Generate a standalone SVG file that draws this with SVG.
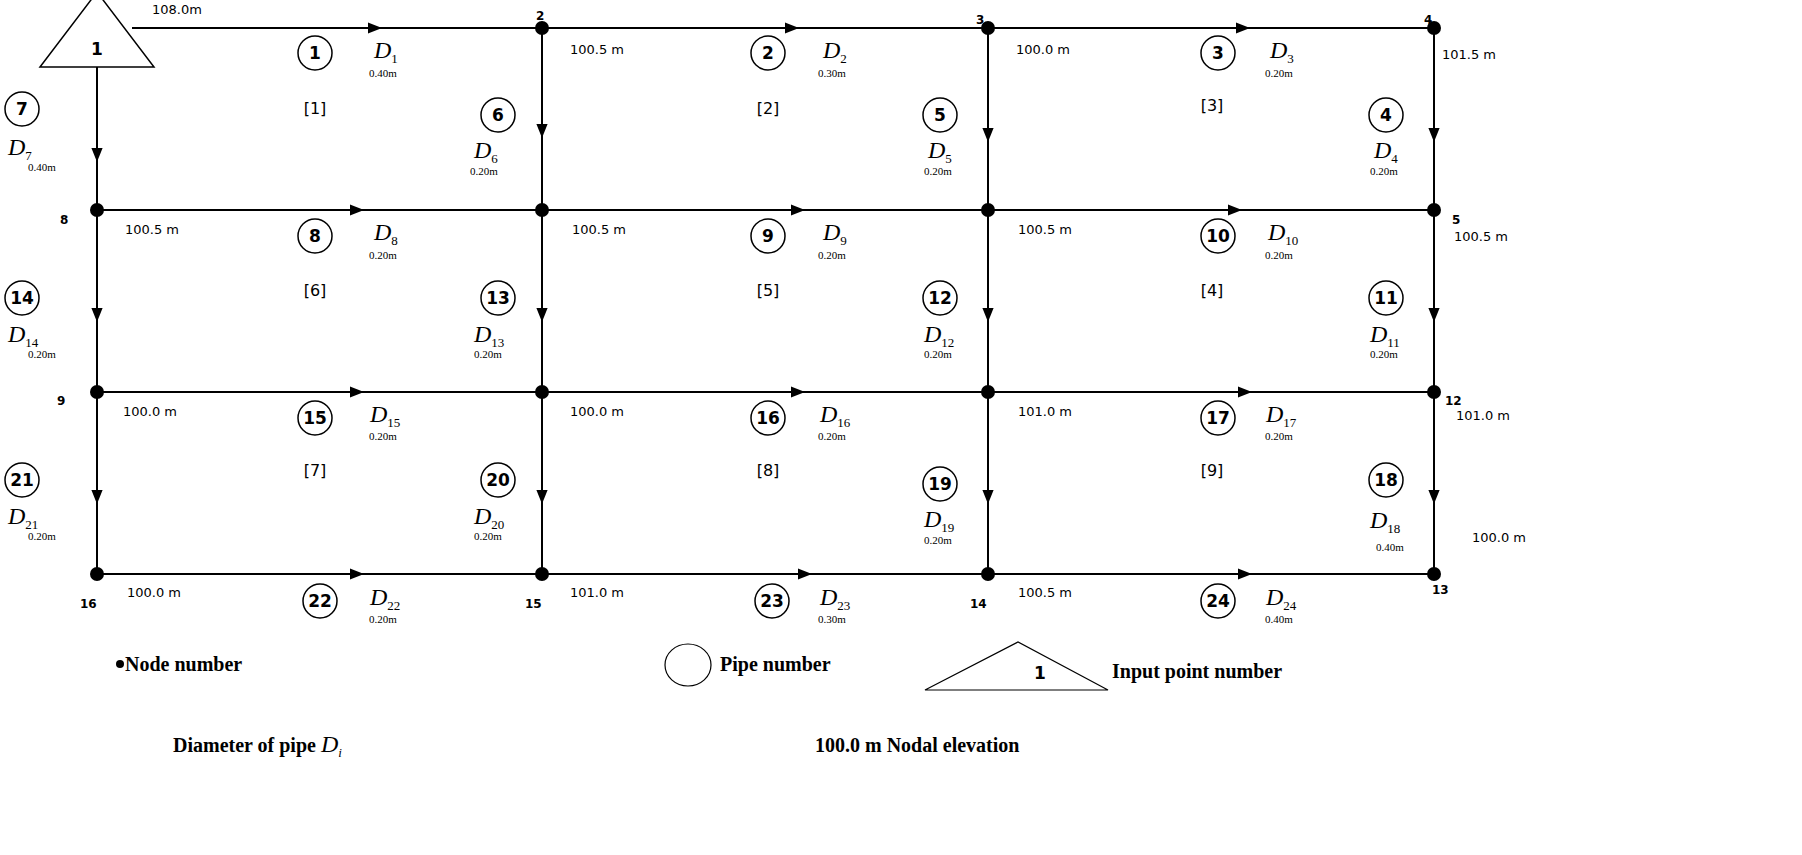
<svg xmlns="http://www.w3.org/2000/svg" width="1802" height="855" viewBox="0 0 1802 855">
<style>
.p{stroke:#000;stroke-width:2;fill:none}
.c{fill:#fff;stroke:#000;stroke-width:1.5}
.cn{font:bold 17px "DejaVu Sans",sans-serif;text-anchor:middle}
.e{font:13px "DejaVu Sans",sans-serif}
.n{font:bold 12px "DejaVu Sans",sans-serif}
.d{font:italic 24px "Liberation Serif",serif}
.ds{font:13px "Liberation Serif",serif}
.dm{font:11px "Liberation Serif",serif}
.l{font:16px "DejaVu Sans",sans-serif;text-anchor:middle}
.lg{font:bold 20px "Liberation Serif",serif}
.ar path{stroke:#000;stroke-width:2;marker-end:url(#b)}
</style>
<defs>
<marker id="b" viewBox="0 0 10 10" refX="10" refY="5" markerWidth="14" markerHeight="14" markerUnits="userSpaceOnUse" orient="auto"><path d="M0,1L10,5L0,9z"/></marker></defs>
<g id="connectors">
<path class="p" d="M132,28H1434M97,210H1434M97,392H1434M97,574H1434M97,67V574M542,28V574M988,28V574M1434,28V574"/>
<g class="ar">
<path d="M360,28H382"/><path d="M777,28H799"/><path d="M1228,28H1250"/>
<path d="M342,210H364"/><path d="M783,210H805"/><path d="M1220,210H1242"/>
<path d="M342,392H364"/><path d="M783,392H805"/><path d="M1230,392H1252"/>
<path d="M342,574H364"/><path d="M790,574H812"/><path d="M1230,574H1252"/>
<path d="M97,140V162"/><path d="M542,118V138"/><path d="M988,120V142"/><path d="M1434,120V142"/>
<path d="M97,300V322"/><path d="M542,300V322"/><path d="M988,300V322"/><path d="M1434,300V322"/>
<path d="M97,482V504"/><path d="M542,482V504"/><path d="M988,482V504"/><path d="M1434,482V504"/>
</g>
</g>
<g id="input1"><path d="M40,67L97,-8L154,67Z" fill="#fff" stroke="#000" stroke-width="1.5"/><text x="97" y="55" class="cn" font-size="20">1</text></g>
<g id="nodes" fill="#000">
<circle cx="542" cy="28" r="7"/><circle cx="988" cy="28" r="7"/><circle cx="1434" cy="28" r="7"/>
<circle cx="97" cy="210" r="7"/><circle cx="542" cy="210" r="7"/><circle cx="988" cy="210" r="7"/><circle cx="1434" cy="210" r="7"/>
<circle cx="97" cy="392" r="7"/><circle cx="542" cy="392" r="7"/><circle cx="988" cy="392" r="7"/><circle cx="1434" cy="392" r="7"/>
<circle cx="97" cy="574" r="7"/><circle cx="542" cy="574" r="7"/><circle cx="988" cy="574" r="7"/><circle cx="1434" cy="574" r="7"/>
</g>
<g id="nodelabels" class="n">
<text x="536" y="20">2</text><text x="976" y="24">3</text><text x="1424" y="24">4</text>
<text x="60" y="224">8</text><text x="1452" y="224">5</text>
<text x="57" y="405">9</text><text x="1445" y="405">12</text>
<text x="80" y="608">16</text><text x="525" y="608">15</text><text x="970" y="608">14</text><text x="1432" y="594">13</text>
</g>
<g id="elevations" class="e">
<text x="152" y="14">108.0m</text>
<text x="570" y="54">100.5 m</text><text x="1016" y="54">100.0 m</text><text x="1442" y="59">101.5 m</text>
<text x="125" y="234">100.5 m</text><text x="572" y="234">100.5 m</text><text x="1018" y="234">100.5 m</text><text x="1454" y="241">100.5 m</text>
<text x="123" y="416">100.0 m</text><text x="570" y="416">100.0 m</text><text x="1018" y="416">101.0 m</text><text x="1456" y="420">101.0 m</text>
<text x="127" y="597">100.0 m</text><text x="570" y="597">101.0 m</text><text x="1018" y="597">100.5 m</text><text x="1472" y="542">100.0 m</text>
</g>
<g id="pipes">
<g id="pipe1"><circle class="c" cx="315" cy="53" r="17"/><text class="cn" x="315" y="59">1</text><text class="d" x="374" y="58">D<tspan class="ds" dy="5">1</tspan></text><text class="dm" x="369" y="77">0.40m</text></g>
<g id="pipe2"><circle class="c" cx="768" cy="53" r="17"/><text class="cn" x="768" y="59">2</text><text class="d" x="823" y="58">D<tspan class="ds" dy="5">2</tspan></text><text class="dm" x="818" y="77">0.30m</text></g>
<g id="pipe3"><circle class="c" cx="1218" cy="53" r="17"/><text class="cn" x="1218" y="59">3</text><text class="d" x="1270" y="58">D<tspan class="ds" dy="5">3</tspan></text><text class="dm" x="1265" y="77">0.20m</text></g>
<g id="pipe7"><circle class="c" cx="22" cy="109" r="17"/><text class="cn" x="22" y="115">7</text><text class="d" x="8" y="155">D<tspan class="ds" dy="5">7</tspan></text><text class="dm" x="28" y="171">0.40m</text></g>
<g id="pipe6"><circle class="c" cx="498" cy="115" r="17"/><text class="cn" x="498" y="121">6</text><text class="d" x="474" y="158">D<tspan class="ds" dy="5">6</tspan></text><text class="dm" x="470" y="175">0.20m</text></g>
<g id="pipe5"><circle class="c" cx="940" cy="115" r="17"/><text class="cn" x="940" y="121">5</text><text class="d" x="928" y="158">D<tspan class="ds" dy="5">5</tspan></text><text class="dm" x="924" y="175">0.20m</text></g>
<g id="pipe4"><circle class="c" cx="1386" cy="115" r="17"/><text class="cn" x="1386" y="121">4</text><text class="d" x="1374" y="158">D<tspan class="ds" dy="5">4</tspan></text><text class="dm" x="1370" y="175">0.20m</text></g>
<g id="pipe8"><circle class="c" cx="315" cy="236" r="17"/><text class="cn" x="315" y="242">8</text><text class="d" x="374" y="240">D<tspan class="ds" dy="5">8</tspan></text><text class="dm" x="369" y="259">0.20m</text></g>
<g id="pipe9"><circle class="c" cx="768" cy="236" r="17"/><text class="cn" x="768" y="242">9</text><text class="d" x="823" y="240">D<tspan class="ds" dy="5">9</tspan></text><text class="dm" x="818" y="259">0.20m</text></g>
<g id="pipe10"><circle class="c" cx="1218" cy="236" r="17"/><text class="cn" x="1218" y="242">10</text><text class="d" x="1268" y="240">D<tspan class="ds" dy="5">10</tspan></text><text class="dm" x="1265" y="259">0.20m</text></g>
<g id="pipe14"><circle class="c" cx="22" cy="298" r="17"/><text class="cn" x="22" y="304">14</text><text class="d" x="8" y="342">D<tspan class="ds" dy="5">14</tspan></text><text class="dm" x="28" y="358">0.20m</text></g>
<g id="pipe13"><circle class="c" cx="498" cy="298" r="17"/><text class="cn" x="498" y="304">13</text><text class="d" x="474" y="342">D<tspan class="ds" dy="5">13</tspan></text><text class="dm" x="474" y="358">0.20m</text></g>
<g id="pipe12"><circle class="c" cx="940" cy="298" r="17"/><text class="cn" x="940" y="304">12</text><text class="d" x="924" y="342">D<tspan class="ds" dy="5">12</tspan></text><text class="dm" x="924" y="358">0.20m</text></g>
<g id="pipe11"><circle class="c" cx="1386" cy="298" r="17"/><text class="cn" x="1386" y="304">11</text><text class="d" x="1370" y="342">D<tspan class="ds" dy="5">11</tspan></text><text class="dm" x="1370" y="358">0.20m</text></g>
<g id="pipe15"><circle class="c" cx="315" cy="418" r="17"/><text class="cn" x="315" y="424">15</text><text class="d" x="370" y="422">D<tspan class="ds" dy="5">15</tspan></text><text class="dm" x="369" y="440">0.20m</text></g>
<g id="pipe16"><circle class="c" cx="768" cy="418" r="17"/><text class="cn" x="768" y="424">16</text><text class="d" x="820" y="422">D<tspan class="ds" dy="5">16</tspan></text><text class="dm" x="818" y="440">0.20m</text></g>
<g id="pipe17"><circle class="c" cx="1218" cy="418" r="17"/><text class="cn" x="1218" y="424">17</text><text class="d" x="1266" y="422">D<tspan class="ds" dy="5">17</tspan></text><text class="dm" x="1265" y="440">0.20m</text></g>
<g id="pipe21"><circle class="c" cx="22" cy="480" r="17"/><text class="cn" x="22" y="486">21</text><text class="d" x="8" y="524">D<tspan class="ds" dy="5">21</tspan></text><text class="dm" x="28" y="540">0.20m</text></g>
<g id="pipe20"><circle class="c" cx="498" cy="480" r="17"/><text class="cn" x="498" y="486">20</text><text class="d" x="474" y="524">D<tspan class="ds" dy="5">20</tspan></text><text class="dm" x="474" y="540">0.20m</text></g>
<g id="pipe19"><circle class="c" cx="940" cy="484" r="17"/><text class="cn" x="940" y="490">19</text><text class="d" x="924" y="527">D<tspan class="ds" dy="5">19</tspan></text><text class="dm" x="924" y="544">0.20m</text></g>
<g id="pipe18"><circle class="c" cx="1386" cy="480" r="17"/><text class="cn" x="1386" y="486">18</text><text class="d" x="1370" y="528">D<tspan class="ds" dy="5">18</tspan></text><text class="dm" x="1376" y="551">0.40m</text></g>
<g id="pipe22"><circle class="c" cx="320" cy="601" r="17"/><text class="cn" x="320" y="607">22</text><text class="d" x="370" y="605">D<tspan class="ds" dy="5">22</tspan></text><text class="dm" x="369" y="623">0.20m</text></g>
<g id="pipe23"><circle class="c" cx="772" cy="601" r="17"/><text class="cn" x="772" y="607">23</text><text class="d" x="820" y="605">D<tspan class="ds" dy="5">23</tspan></text><text class="dm" x="818" y="623">0.30m</text></g>
<g id="pipe24"><circle class="c" cx="1218" cy="601" r="17"/><text class="cn" x="1218" y="607">24</text><text class="d" x="1266" y="605">D<tspan class="ds" dy="5">24</tspan></text><text class="dm" x="1265" y="623">0.40m</text></g>
</g>
<g id="loops" class="l">
<text x="315" y="114">[1]</text><text x="768" y="114">[2]</text><text x="1212" y="111">[3]</text>
<text x="315" y="296">[6]</text><text x="768" y="296">[5]</text><text x="1212" y="296">[4]</text>
<text x="315" y="476">[7]</text><text x="768" y="476">[8]</text><text x="1212" y="476">[9]</text>
</g>
<g id="legend">
<circle cx="120" cy="664" r="4" fill="#000"/><text class="lg" x="125" y="671">Node number</text>
<ellipse cx="688" cy="665" rx="23" ry="21" fill="none" stroke="#000" stroke-width="1.2"/><text class="lg" x="720" y="671">Pipe number</text>
<path d="M925,690L1018,642L1108,690Z" fill="none" stroke="#000" stroke-width="1.2"/><text class="cn" x="1040" y="679">1</text><text class="lg" x="1112" y="678">Input point number</text>
<text class="lg" x="173" y="752">Diameter of pipe <tspan font-style="italic" font-weight="normal" font-size="24">D</tspan><tspan font-style="italic" font-weight="normal" font-size="13" dy="5">i</tspan></text>
<text class="lg" x="815" y="752">100.0 m Nodal elevation</text>
</g>
</svg>
